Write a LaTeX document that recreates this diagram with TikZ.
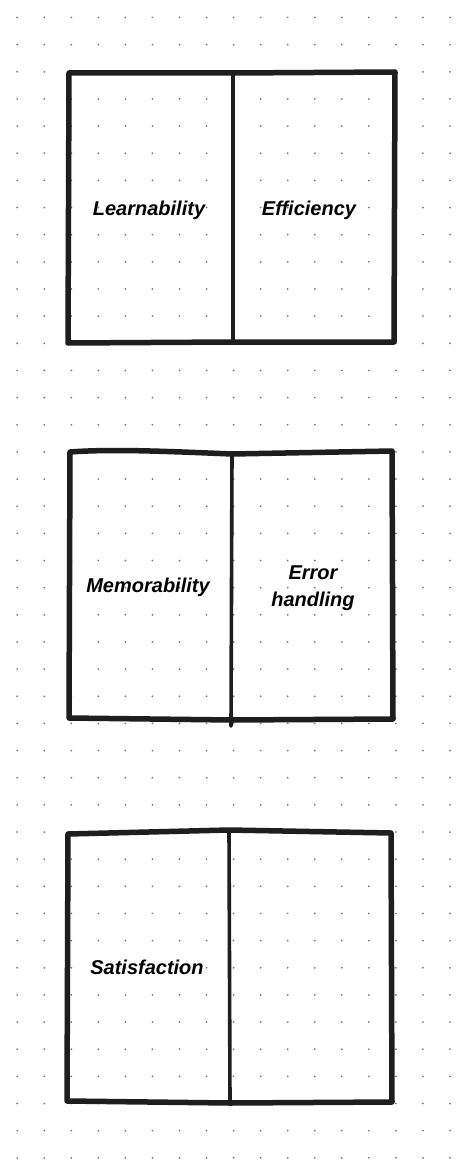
\documentclass[tikz,border=0pt]{standalone}
\usepackage{fontspec}
\setmainfont{Liberation Sans}
\begin{document}
\begin{tikzpicture}[x=1pt,y=-1pt,
  frame/.style={draw=ink, line width=5.5, line join=round, line cap=round},
  divider/.style={draw=ink, line width=3.6, line cap=round},
  lbl/.style={font=\fontsize{20}{27}\selectfont\bfseries\itshape, text=black, align=center, inner sep=0pt},
  dotc/.style={fill=dotgray}]
\definecolor{ink}{HTML}{1E1E1E}
\definecolor{dotgray}{HTML}{7A7A7A}
\fill[white] (0,0) rectangle (474,1174);
\useasboundingbox (0,0) rectangle (474,1174);
% dot grid
\foreach \i in {0,...,16} {
  \foreach \j in {0,...,42} {
    \fill[dotc] ({17.2+27.05*\i},{17.5+27.15*\j}) circle (1.0);
  }
}
% box 1
\draw[frame] (69,73) -- (233,73) -- (395,72) -- (394,342) -- (233,342) -- (68,343) -- cycle;
\draw[divider] (233,73) -- (233,342);
% box 2
\draw[frame] (70,452) .. controls (110,449) and (160,451) .. (232,454) -- (392,451) -- (393,719) -- (232,720) -- (69,718) -- cycle;
\draw[divider] (232,454) -- (231,726);
% box 3
\draw[frame] (68,834) -- (229,830) -- (391,833) -- (392,1102) -- (230,1103) -- (67,1101) -- cycle;
\draw[divider] (229,830) -- (230,1102);
% labels
\node[lbl] (learn) at (149,210) {Learnability};
\node[lbl] (eff) at (309,210) {Efficiency};
\node[lbl] (mem) at (148,587) {Memorability};
\node[lbl] (err) at (313,588) {Error\\handling};
\node[lbl] (sat) at (147,967) {Satisfaction};
\end{tikzpicture}
\end{document}
